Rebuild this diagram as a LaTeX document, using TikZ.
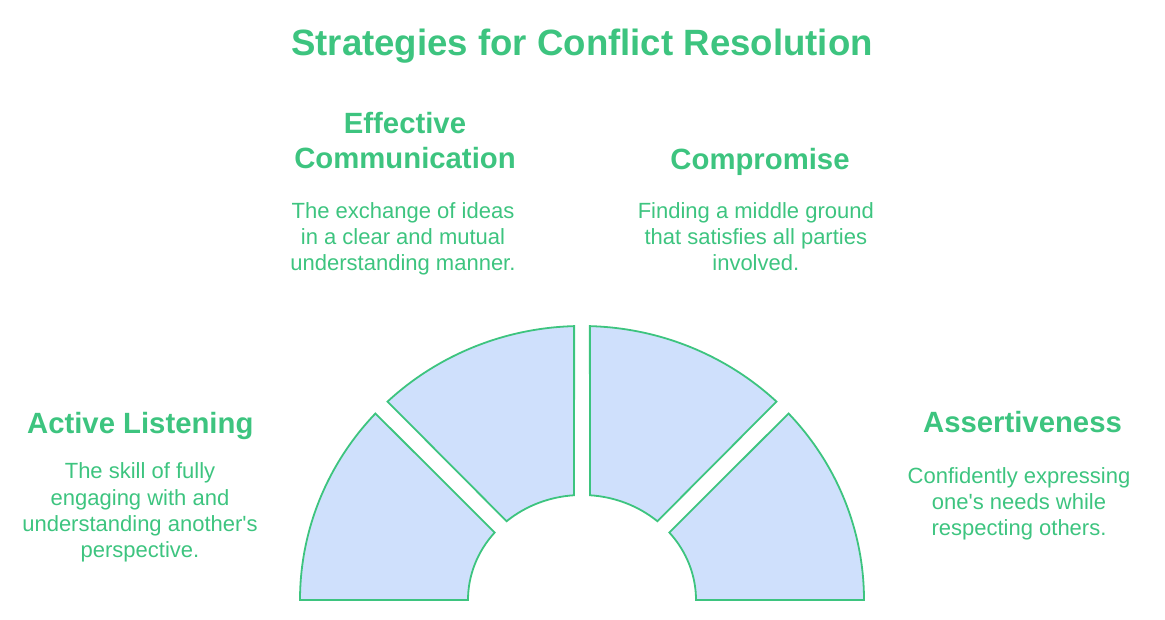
\documentclass[tikz,border=0pt]{standalone}
\usepackage{fontspec}
\setmainfont{Liberation Sans}
\usepackage{tikz}
\usetikzlibrary{positioning}
\definecolor{leafgreen}{RGB}{61,196,127}
\definecolor{paleblue}{RGB}{207,224,252}
\tikzset{
  titlenode/.style={font=\fontsize{36.6}{44}\selectfont\bfseries, text=leafgreen, inner sep=0pt, anchor=base},
  headnode/.style={font=\fontsize{29.3}{35}\selectfont\bfseries, text=leafgreen, align=center, inner sep=0pt, anchor=base},
  descnode/.style={font=\fontsize{22}{26.2}\selectfont, text=leafgreen, align=center, inner sep=0pt, anchor=base},
  sector/.style={draw=leafgreen, fill=paleblue, line width=1.8pt, line join=miter}
}

\begin{document}
\begin{tikzpicture}[x=1pt, y=1pt]
  \useasboundingbox (0,0) rectangle (1165,619);
  \node[titlenode] (title) at (582,563.3) {Strategies for Conflict Resolution};

  % the four pieces of the half ring
  \begin{scope}[shift={(582,19)}]
    \draw[sector] (180:282 and 274) arc[start angle=180, end angle=137.1, x radius=282, y radius=274]
      -- (140:114 and 105) arc[start angle=140, end angle=180, x radius=114, y radius=105] -- cycle;
    \draw[sector] (133.6:282 and 274) arc[start angle=133.6, end angle=91.6, x radius=282, y radius=274]
      -- (94:114 and 105) arc[start angle=94, end angle=131.4, x radius=114, y radius=105] -- cycle;
    \draw[sector] (88.4:282 and 274) arc[start angle=88.4, end angle=46.4, x radius=282, y radius=274]
      -- (48.6:114 and 105) arc[start angle=48.6, end angle=86, x radius=114, y radius=105] -- cycle;
    \draw[sector] (42.9:282 and 274) arc[start angle=42.9, end angle=0, x radius=282, y radius=274]
      -- (0:114 and 105) arc[start angle=0, end angle=40, x radius=114, y radius=105] -- cycle;
  \end{scope}

  % labels (base = last line)
  \node[headnode] (listenhead) at (140.3,185.7) {Active Listening};
  \node[descnode] (listentext) at (140,61.5) {The skill of fully\\engaging with and\\understanding another\textquotesingle s\\perspective.};
  \node[headnode] (commhead) at (405,450.7) {Effective\\Communication};
  \node[descnode] (commtext) at (403,348) {The exchange of ideas\\in a clear and mutual\\understanding manner.};
  \node[headnode] (comphead) at (760,449.5) {Compromise};
  \node[descnode] (comptext) at (755.8,348) {Finding a middle ground\\that satisfies all parties\\involved.};
  \node[headnode] (asserthead) at (1022.5,186.7) {Assertiveness};
  \node[descnode] (asserttext) at (1019,83.5) {Confidently expressing\\one\textquotesingle s needs while\\respecting others.};
\end{tikzpicture}
\end{document}
